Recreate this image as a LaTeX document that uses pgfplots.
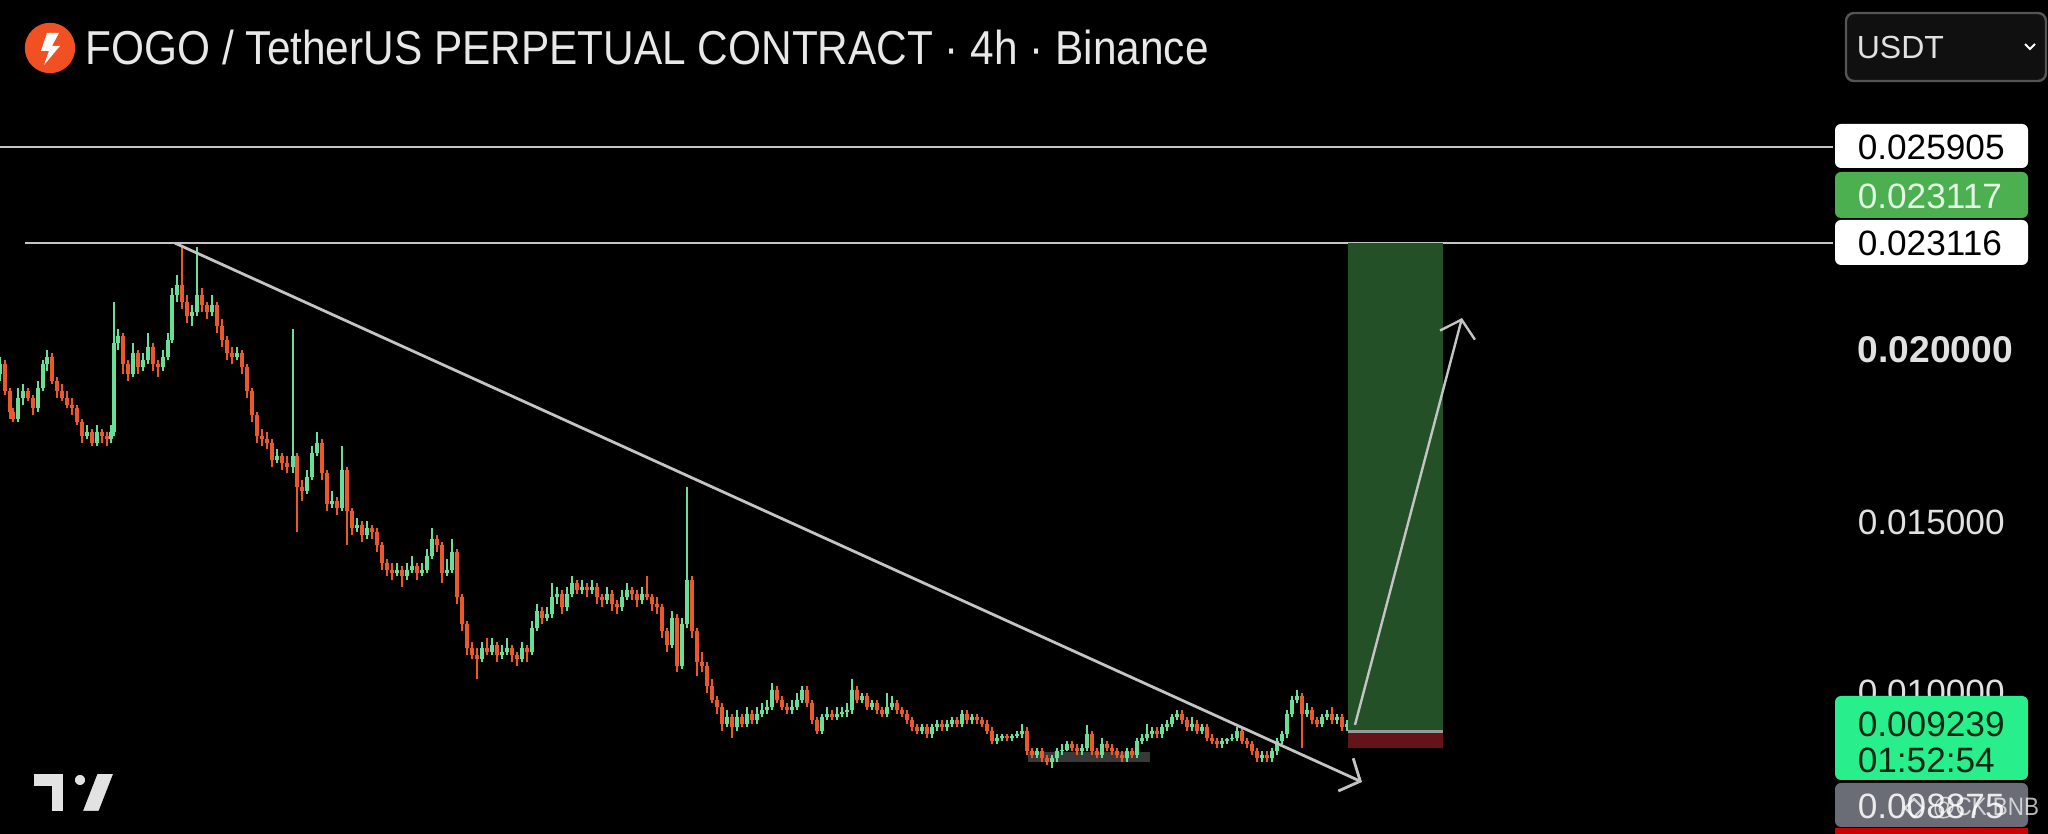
\documentclass[border=0pt]{standalone}
\usepackage{pgfplots}
\pgfplotsset{compat=1.18}
\usepackage{pgfplotstable}
\usetikzlibrary{arrows.meta}
\usepackage{fontspec}
\setmainfont{Liberation Sans}
\newfontfamily\titlefont[FakeStretch=0.89]{Liberation Sans}

\definecolor{upc}{RGB}{105,222,150}
\definecolor{dnc}{RGB}{236,88,44}
\definecolor{guide}{RGB}{196,196,196}
\definecolor{tpgreen}{RGB}{36,80,40}
\definecolor{slred}{RGB}{98,20,24}
\definecolor{lblgreen}{RGB}{76,175,80}
\definecolor{mint}{RGB}{40,238,140}
\definecolor{entrygray}{RGB}{106,108,118}
\definecolor{fogo}{RGB}{240,80,34}

% 4h candles, x = pixel column, prices in 1/1000 USDT
\pgfplotstableread{
x o h l c
0 19.3 19.8 19.1 19.6
5 19.6 19.7 18.7 18.8
10 18.8 18.9 18.0 18.2
13 18.2 18.3 17.9 18.0
18 18.0 18.9 17.9 18.6
23 18.6 19.0 18.4 18.8
28 18.8 18.9 18.5 18.6
33 18.6 18.7 18.1 18.3
38 18.3 19.1 18.2 18.9
43 18.9 19.7 18.8 19.6
47 19.6 20.0 19.4 19.8
52 19.8 19.9 19.0 19.1
57 19.1 19.2 18.6 18.8
62 18.8 19.0 18.5 18.6
67 18.6 18.8 18.3 18.4
72 18.4 18.6 18.1 18.3
77 18.3 18.4 17.8 17.9
82 17.9 18.0 17.3 17.5
87 17.5 17.8 17.4 17.6
92 17.6 17.7 17.2 17.3
97 17.3 17.8 17.2 17.6
102 17.6 17.7 17.3 17.5
107 17.5 17.6 17.2 17.4
111 17.4 17.8 17.3 17.6
114 17.6 21.4 17.5 20.2
118 20.2 20.6 20.0 20.4
123 20.4 20.5 19.3 19.6
128 19.6 19.7 19.1 19.3
133 19.3 20.2 19.2 19.9
138 19.9 20.0 19.3 19.5
143 19.5 19.9 19.4 19.7
148 19.7 20.5 19.6 20.1
153 20.1 20.2 19.4 19.6
158 19.6 19.7 19.2 19.5
163 19.5 20.0 19.4 19.8
168 19.8 20.5 19.7 20.3
172 20.3 21.8 20.2 21.6
177 21.6 22.2 21.4 21.9
182 21.9 23.0 21.2 21.4
187 21.4 21.6 20.8 21.0
192 21.0 21.3 20.7 21.1
197 21.1 23.0 21.0 21.6
202 21.6 21.8 21.1 21.3
207 21.3 21.4 20.9 21.1
212 21.1 21.6 21.0 21.3
217 21.3 21.4 20.5 20.7
222 20.7 20.9 20.1 20.3
227 20.3 20.4 19.7 19.9
232 19.9 20.1 19.6 19.8
237 19.8 20.1 19.7 19.9
242 19.9 20.0 19.3 19.5
247 19.5 19.6 18.6 18.8
252 18.8 18.9 17.9 18.1
257 18.1 18.2 17.3 17.5
262 17.5 17.7 17.2 17.4
267 17.4 17.6 17.1 17.3
272 17.3 17.4 16.6 16.8
277 16.8 17.1 16.7 16.9
282 16.9 17.0 16.5 16.7
287 16.7 16.9 16.4 16.6
293 16.6 20.6 16.4 16.9
297 16.9 17.0 14.7 16.0
302 16.0 16.2 15.6 15.9
307 15.9 16.5 15.8 16.3
312 16.3 17.2 16.2 17.0
317 17.0 17.6 16.9 17.3
322 17.3 17.4 16.2 16.4
327 16.4 16.5 15.3 15.5
332 15.5 15.9 15.4 15.6
337 15.6 15.7 15.2 15.4
342 15.4 17.2 15.3 16.5
347 16.5 16.6 14.3 15.3
352 15.3 15.4 14.6 14.8
357 14.8 15.1 14.7 14.9
362 14.9 15.0 14.4 14.6
367 14.6 15.0 14.5 14.8
372 14.8 14.9 14.5 14.7
377 14.7 14.8 14.1 14.3
382 14.3 14.4 13.6 13.8
387 13.8 13.9 13.4 13.6
392 13.6 13.8 13.3 13.5
397 13.5 13.8 13.4 13.6
402 13.6 13.7 13.1 13.4
407 13.4 13.8 13.3 13.6
412 13.6 14.0 13.5 13.7
417 13.7 13.8 13.3 13.5
422 13.5 13.8 13.4 13.6
427 13.6 14.2 13.5 14.0
432 14.0 14.8 13.9 14.5
437 14.5 14.6 14.1 14.3
442 14.3 14.4 13.2 13.5
447 13.5 13.9 13.4 13.6
452 13.6 14.5 13.5 14.1
457 14.1 14.2 12.6 12.8
462 12.8 12.9 11.8 12.0
467 12.0 12.1 11.1 11.3
472 11.3 11.5 11.0 11.1
477 11.1 11.3 10.4 11.0
482 11.0 11.5 10.9 11.3
487 11.3 11.6 11.1 11.2
492 11.2 11.6 11.1 11.4
497 11.4 11.5 10.9 11.1
502 11.1 11.4 11.0 11.2
507 11.2 11.6 11.1 11.3
512 11.3 11.4 10.9 11.1
517 11.1 11.2 10.8 11.0
522 11.0 11.5 10.9 11.3
527 11.3 11.4 10.9 11.2
532 11.2 12.1 11.1 11.9
537 11.9 12.6 11.8 12.4
542 12.4 12.5 12.0 12.2
547 12.2 12.5 12.1 12.3
552 12.3 13.2 12.2 12.8
557 12.8 13.1 12.6 12.9
562 12.9 13.0 12.3 12.5
567 12.5 13.1 12.4 12.9
572 12.9 13.4 12.8 13.2
577 13.2 13.3 12.9 13.0
582 13.0 13.3 12.9 13.1
587 13.1 13.2 12.8 13.0
592 13.0 13.3 12.9 13.1
597 13.1 13.2 12.6 12.8
602 12.8 12.9 12.5 12.7
607 12.7 13.1 12.6 12.9
612 12.9 13.0 12.4 12.6
617 12.6 12.7 12.3 12.5
622 12.5 13.0 12.4 12.8
627 12.8 13.2 12.7 13.0
632 13.0 13.1 12.7 12.9
637 12.9 13.0 12.5 12.7
642 12.7 13.1 12.6 12.9
647 12.9 13.4 12.7 12.8
652 12.8 12.9 12.4 12.6
657 12.6 12.8 12.3 12.5
662 12.5 12.6 11.6 11.8
667 11.8 11.9 11.2 11.4
672 11.4 12.4 11.3 12.2
677 12.2 12.3 10.6 10.8
682 10.8 12.2 10.7 12.0
687 12.0 16.0 11.9 13.3
692 13.3 13.4 11.6 11.8
697 11.8 11.9 10.5 10.9
702 10.9 11.2 10.6 10.8
707 10.8 10.9 10.0 10.2
712 10.2 10.4 9.7 9.8
717 9.8 9.9 9.4 9.6
722 9.6 9.7 8.9 9.1
727 9.1 9.5 9.0 9.3
732 9.3 9.4 8.7 9.0
737 9.0 9.5 8.9 9.3
742 9.3 9.4 9.0 9.1
747 9.1 9.6 9.0 9.4
752 9.4 9.5 9.1 9.2
757 9.2 9.6 9.1 9.4
762 9.4 9.7 9.3 9.5
767 9.5 9.8 9.4 9.6
772 9.6 10.3 9.5 10.1
777 10.1 10.2 9.7 9.8
782 9.8 9.9 9.5 9.6
787 9.6 9.7 9.4 9.5
792 9.5 9.8 9.4 9.6
797 9.6 10.0 9.5 9.8
802 9.8 10.2 9.7 10.1
807 10.1 10.2 9.6 9.7
812 9.7 9.8 9.1 9.2
817 9.2 9.3 8.8 8.9
822 8.9 9.4 8.8 9.3
827 9.3 9.6 9.2 9.4
832 9.4 9.5 9.2 9.3
837 9.3 9.6 9.2 9.4
842 9.4 9.6 9.3 9.45
847 9.45 9.7 9.3 9.5
852 9.5 10.4 9.4 10.1
857 10.1 10.2 9.7 9.8
862 9.8 10.0 9.7 9.9
867 9.9 10.0 9.5 9.6
872 9.6 9.8 9.5 9.7
877 9.7 9.8 9.4 9.5
882 9.5 9.6 9.3 9.4
887 9.4 10.0 9.3 9.6
892 9.6 9.9 9.5 9.7
897 9.7 9.8 9.4 9.5
902 9.5 9.6 9.3 9.4
907 9.4 9.5 9.1 9.2
912 9.2 9.3 8.9 9.0
917 9.0 9.1 8.8 8.9
922 8.9 9.1 8.8 9.0
927 9.0 9.1 8.7 8.8
932 8.8 9.1 8.7 9.0
937 9.0 9.2 8.9 9.1
942 9.1 9.2 8.9 9.0
947 9.0 9.2 8.9 9.1
952 9.1 9.3 9.0 9.2
957 9.2 9.3 9.0 9.1
962 9.1 9.5 9.0 9.4
967 9.4 9.5 9.1 9.2
972 9.2 9.4 9.1 9.3
977 9.3 9.4 9.1 9.2
982 9.2 9.3 9.0 9.1
987 9.1 9.2 8.8 8.9
992 8.9 9.0 8.5 8.6
997 8.6 8.8 8.5 8.7
1002 8.7 8.8 8.6 8.75
1007 8.75 8.8 8.6 8.7
1012 8.7 8.8 8.6 8.75
1017 8.75 8.9 8.7 8.8
1022 8.8 9.1 8.7 8.9
1027 8.9 9.0 8.2 8.3
1032 8.3 8.4 8.1 8.2
1037 8.2 8.4 8.1 8.3
1042 8.3 8.4 8.0 8.1
1047 8.1 8.2 7.9 8.0
1052 8.0 8.2 7.8 8.1
1057 8.1 8.4 8.0 8.3
1062 8.3 8.5 8.2 8.35
1067 8.35 8.6 8.3 8.5
1072 8.5 8.6 8.3 8.4
1077 8.4 8.5 8.2 8.3
1082 8.3 8.5 8.2 8.4
1087 8.4 9.06 8.3 8.8
1092 8.8 8.9 8.2 8.3
1097 8.3 8.4 8.1 8.2
1102 8.2 8.7 8.1 8.5
1107 8.5 8.6 8.3 8.4
1112 8.4 8.5 8.2 8.3
1117 8.3 8.4 8.1 8.2
1122 8.2 8.3 8.0 8.1
1127 8.1 8.4 8.0 8.3
1132 8.3 8.4 8.1 8.2
1137 8.2 8.7 8.1 8.6
1142 8.6 8.8 8.5 8.7
1147 8.7 9.1 8.6 8.8
1152 8.8 9.0 8.7 8.9
1157 8.9 9.0 8.7 8.8
1162 8.8 9.1 8.7 9.0
1167 9.0 9.2 8.9 9.1
1172 9.1 9.4 9.0 9.3
1177 9.3 9.5 9.2 9.4
1182 9.4 9.5 9.1 9.2
1187 9.2 9.3 8.9 9.0
1192 9.0 9.3 8.9 9.1
1197 9.1 9.2 8.8 8.9
1202 8.9 9.1 8.8 9.0
1207 9.0 9.1 8.6 8.7
1212 8.7 8.8 8.5 8.6
1217 8.6 8.7 8.4 8.5
1222 8.5 8.7 8.4 8.6
1227 8.6 8.7 8.5 8.65
1232 8.65 8.8 8.6 8.7
1237 8.7 9.0 8.6 8.9
1242 8.9 9.0 8.5 8.6
1247 8.6 8.7 8.4 8.5
1252 8.5 8.6 8.2 8.3
1257 8.3 8.4 8.0 8.1
1262 8.1 8.3 8.0 8.2
1267 8.2 8.3 8.0 8.1
1272 8.1 8.4 8.0 8.3
1277 8.3 8.7 8.2 8.6
1282 8.6 8.9 8.5 8.8
1287 8.8 9.5 8.7 9.4
1292 9.4 9.9 9.3 9.8
1297 9.8 10.1 9.7 9.9
1302 9.9 10.0 8.4 9.4
1307 9.4 9.7 9.3 9.5
1312 9.5 9.6 9.1 9.2
1317 9.2 9.3 9.0 9.1
1322 9.1 9.4 9.0 9.3
1327 9.3 9.5 9.2 9.4
1332 9.4 9.6 9.1 9.2
1337 9.2 9.4 9.1 9.3
1342 9.3 9.4 8.9 9.0
1347 9.0 9.2 8.9 9.1
1352 9.1 9.3 9.0 9.2
1357 9.2 9.3 9.1 9.239
}\candles

% a candle of the other colour gets a zero length segment
\pgfplotsset{
  wick/.style={line width=0.4pt, line cap=butt, #1},
  body/.style={line width=1.0pt, line cap=butt, #1},
}

\begin{document}
\begin{tikzpicture}
\fill[black] (0,0) rectangle (512pt,208.5pt);
\begin{axis}[
  scale only axis,
  width=512pt, height=208.5pt,
  xmin=0, xmax=2048,
  ymin=5.889, ymax=30.204,
  hide axis,
]
% consolidation zone
\fill[gray!45!black] (1028,8.28) rectangle (1150,7.99);

% wicks
\addplot[wick=upc, quiver={u=0, v={ifthenelse(\thisrow{c}>=\thisrow{o},\thisrow{h}-\thisrow{l},0)}}]
  table[x=x, y=l] {\candles};
\addplot[wick=dnc, quiver={u=0, v={ifthenelse(\thisrow{c}<\thisrow{o},\thisrow{h}-\thisrow{l},0)}}]
  table[x=x, y=l] {\candles};
% bodies
\addplot[body=upc, quiver={u=0, v={ifthenelse(\thisrow{c}>=\thisrow{o},\thisrow{c}-\thisrow{o},0)}}]
  table[x=x, y=o] {\candles};
\addplot[body=dnc, quiver={u=0, v={ifthenelse(\thisrow{c}<\thisrow{o},\thisrow{c}-\thisrow{o},0)}}]
  table[x=x, y=o] {\candles};

% levels
\draw[guide, line width=0.5pt] (0,25.905) -- (1833,25.905);
\draw[guide, line width=0.5pt] (25,23.116) -- (1833,23.116);

% long position tool
\fill[tpgreen] (1348,23.116) rectangle (1443,8.92);
\fill[slred] (1348,8.85) rectangle (1443,8.40);
\draw[gray!80, line width=0.7pt] (1348,8.875) -- (1443,8.875);

% trendline and arrows
\draw[guide, line width=0.7pt, -{Straight Barb[length=4pt,width=9pt,line width=0.7pt]}]
  (175,23.116) -- (1362,7.405);
\draw[guide, line width=0.6pt, -{Straight Barb[length=4pt,width=9pt,line width=0.6pt]}]
  (1355,9.07) -- (1462,20.93);
\end{axis}

% screen overlay in pixel units, origin top left
\begin{scope}[shift={(0pt,208.5pt)}, x=0.25pt, y=-0.25pt]
  % header
  \fill[fogo] (50,48) circle (6.3pt);
  \fill[white] (47,33) -- (59,33) -- (52,46) -- (60,46) -- (44,65) -- (49,51) -- (41,51) -- cycle;
  \node[anchor=base west, inner sep=0, text={rgb,255:red,232;green,232;blue,232},
        font=\titlefont\fontsize{11.9pt}{13pt}\selectfont] at (85,65)
        {FOGO / TetherUS PERPETUAL CONTRACT · 4h · Binance};
  % currency selector
  \draw[draw={rgb,255:red,85;green,85;blue,85}, fill={rgb,255:red,16;green,16;blue,16},
        line width=0.6pt, rounded corners=2pt] (1846,13) rectangle (2046,81);
  \node[anchor=west, inner sep=0, text={rgb,255:red,225;green,225;blue,225},
        font=\fontsize{8pt}{9pt}\selectfont] at (1856,47) {USDT};
  \draw[white, line width=0.5pt] (2025,44) -- (2030,49) -- (2035,44);

  % price scale
  \fill[white, rounded corners=1.5pt] (1835,124) rectangle (2028,168);
  \node[anchor=west, inner sep=0, font=\fontsize{8.8pt}{10pt}\selectfont] at (1857,147) {0.025905};
  \fill[lblgreen, rounded corners=1.5pt] (1835,172) rectangle (2028,218);
  \node[anchor=west, inner sep=0, text={rgb,255:red,228;green,246;blue,228},
        font=\fontsize{8.8pt}{10pt}\selectfont] at (1857,196) {0.023117};
  \fill[white, rounded corners=1.5pt] (1835,220) rectangle (2028,265);
  \node[anchor=west, inner sep=0, font=\fontsize{8.8pt}{10pt}\selectfont] at (1857,243) {0.023116};

  \node[anchor=west, inner sep=0, text={rgb,255:red,225;green,225;blue,225},
        font=\bfseries\fontsize{9.3pt}{10pt}\selectfont] at (1857,350) {0.020000};
  \node[anchor=west, inner sep=0, text={rgb,255:red,225;green,225;blue,225},
        font=\fontsize{8.8pt}{10pt}\selectfont] at (1857,522) {0.015000};
  \node[anchor=west, inner sep=0, text={rgb,255:red,225;green,225;blue,225},
        font=\fontsize{8.8pt}{10pt}\selectfont] at (1857,692) {0.010000};

  \fill[mint, rounded corners=1.5pt] (1835,696) rectangle (2028,780);
  \node[anchor=west, inner sep=0, text={rgb,255:red,8;green,40;blue,20},
        font=\fontsize{8.8pt}{10pt}\selectfont] at (1857,724) {0.009239};
  \node[anchor=west, inner sep=0, text={rgb,255:red,8;green,40;blue,20},
        font=\fontsize{8.8pt}{10pt}\selectfont] at (1857,760) {01:52:54};
  \fill[entrygray, rounded corners=1.5pt] (1835,783) rectangle (2028,827);
  \node[anchor=west, inner sep=0, text={rgb,255:red,235;green,235;blue,235},
        font=\fontsize{8.8pt}{10pt}\selectfont] at (1857,806) {0.008875};
  \fill[red!80!black] (1835,828) rectangle (2028,834);
  % watermark
  \node[anchor=west, inner sep=0, text=white, opacity=0.7,
        font=\titlefont\fontsize{6.3pt}{8pt}\selectfont] at (1932,808) {@CK BNB};
  \draw[white, opacity=0.7, line width=0.6pt] (1914,799) -- (1923,808) -- (1914,817) -- (1905,808) -- cycle;

  % logo
  \begin{scope}[line width=1pt, draw=black]
    \filldraw[fill={rgb,255:red,226;green,226;blue,226}] (32,772) -- (65,772) -- (65,813) -- (50,813) -- (50,788) -- (32,788) -- cycle;
    \filldraw[fill={rgb,255:red,226;green,226;blue,226}] (80,780) circle (1.8pt);
    \filldraw[fill={rgb,255:red,226;green,226;blue,226}] (96,772) -- (116,772) -- (100,813) -- (80,813) -- cycle;
  \end{scope}
\end{scope}
\pgfresetboundingbox
\useasboundingbox (0,0) rectangle (512pt,208.5pt);
\end{tikzpicture}
\end{document}
